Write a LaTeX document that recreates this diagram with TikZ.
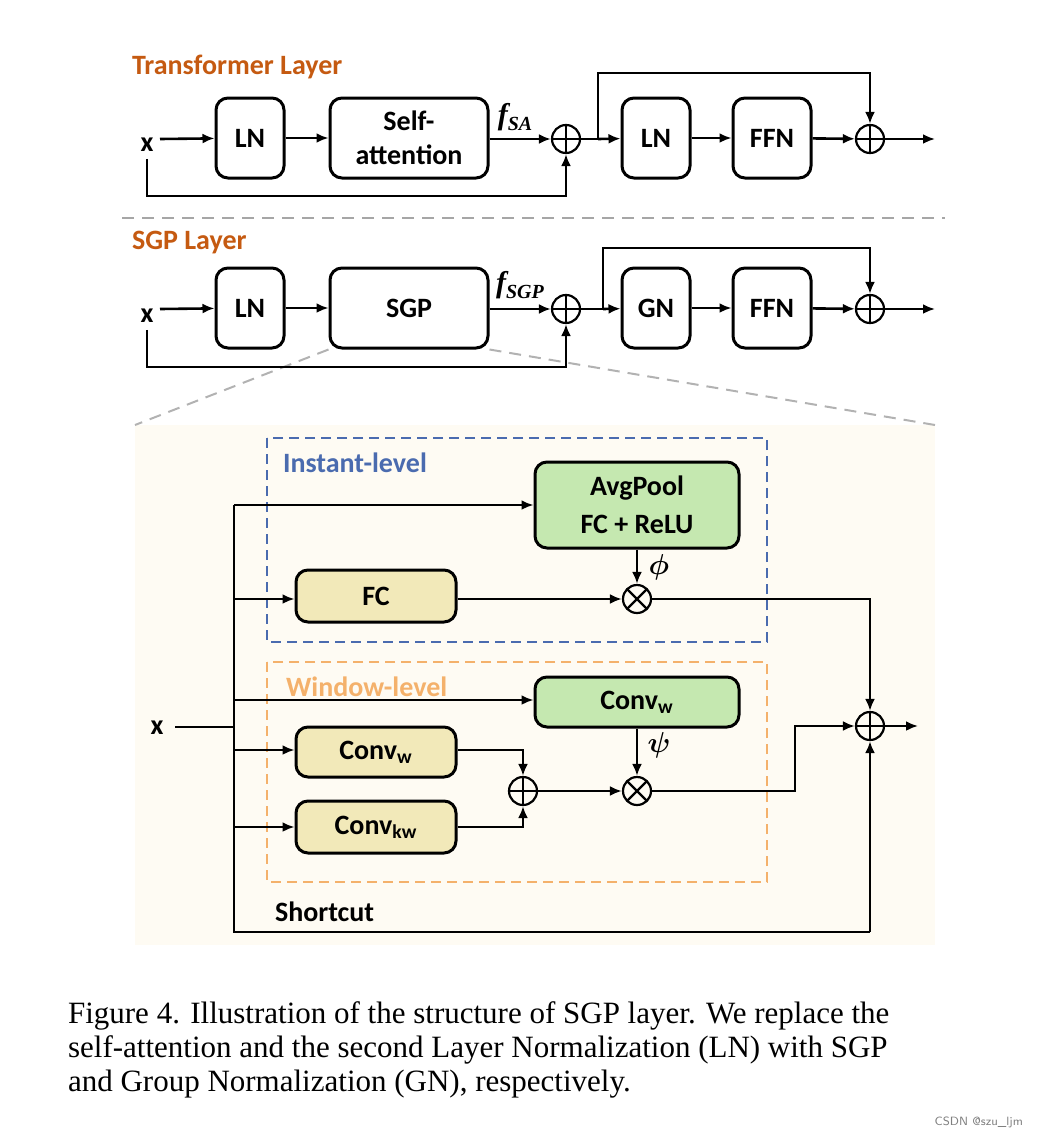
\documentclass[tikz,border=0pt]{standalone}
\usepackage{bm}
\usepackage{fontspec}
\setmainfont{Liberation Serif}
\newfontfamily\carl{Carlito}
\usetikzlibrary{arrows.meta}
\definecolor{tl}{HTML}{C55A11}
\definecolor{bl}{HTML}{4A6BAF}
\definecolor{orl}{HTML}{F4B16B}
\definecolor{grn}{HTML}{C5E8B0}
\definecolor{crm}{HTML}{F2E9B9}
\definecolor{bg}{HTML}{FEFBF3}
\begin{document}
\begin{tikzpicture}[x=0.5pt,y=-0.5pt,
 box/.style={draw,line width=1.5pt,rounded corners=6pt,font=\carl\bfseries\fontsize{14}{17}\selectfont,align=center,inner sep=0pt},
 ar/.style={line width=1.3pt,-{Latex[length=6pt,width=5pt]}},
 ln/.style={line width=1.3pt},
 op/.style={circle,draw,line width=1.1pt,minimum size=14pt,inner sep=0pt,path picture={\draw[line width=1.1pt] (path picture bounding box.north)--(path picture bounding box.south) (path picture bounding box.west)--(path picture bounding box.east);}},
 ot/.style={circle,draw,line width=1.1pt,minimum size=14pt,inner sep=0pt,path picture={\draw[line width=1.1pt] (path picture bounding box.north west)--(path picture bounding box.south east) (path picture bounding box.south west)--(path picture bounding box.north east);}},
 lab/.style={font=\carl\bfseries\fontsize{14}{17}\selectfont},
 gk/.style={font=\fontsize{14}{16}\selectfont}]
\useasboundingbox (0,0) rectangle (1042,1140);
% titles
\node[lab,text=tl,anchor=west] (t1) at (125,67) {Transformer Layer};
\node[lab,text=tl,anchor=west] (t2) at (125,243) {SGP Layer};
\draw[gray!70,line width=1.2pt,dash pattern=on 6pt off 4pt] (122,218)--(945,218);
% row 1
\node[lab] (x1) at (147,145) {x};
\node[box,minimum width=34pt,minimum height=40pt] (ln1) at (250,138) {LN};
\node[box,minimum width=79pt,minimum height=40pt] (sa) at (409,138) {Self-\\attention};
\node[op] (p1) at (566,139) {};
\node[box,minimum width=34pt,minimum height=40pt] (ln2) at (656,138) {LN};
\node[box,minimum width=39pt,minimum height=40pt] (ffn1) at (772,138) {FFN};
\node[op] (q1) at (870,139) {};
\coordinate (o1) at (935,139);
\node[font=\bfseries\itshape\fontsize{15}{16}\selectfont] (fsa) at (515,117) {f\raisebox{-3pt}{\fontsize{10}{12}\selectfont SA}};
\draw[ar] (160,139)--(ln1);
\draw[ar] (ln1)--(sa);
\draw[ar] (sa.east|-p1)--(p1);
\draw[ar] (x1.south)|-(566,196)--(p1.south);
\draw[ln] (p1)--(598,139);
\draw[ar] (598,139)--(ln2);
\draw[ar] (ln2)--(ffn1);
\draw[ar] (ffn1)--(q1);
\draw[ar] (598,139)|-(870,73)--(q1.north);
\draw[ar] (q1)--(o1);
% row 2
\node[lab] (x2) at (147,316) {x};
\node[box,minimum width=34pt,minimum height=40pt] (ln3) at (250,308) {LN};
\node[box,minimum width=79pt,minimum height=40pt] (sgp) at (409,308) {SGP};
\node[op] (p2) at (566,309) {};
\node[box,minimum width=34pt,minimum height=40pt] (gn) at (656,308) {GN};
\node[box,minimum width=39pt,minimum height=40pt] (ffn2) at (772,308) {FFN};
\node[op] (q2) at (870,309) {};
\coordinate (o2) at (935,309);
\node[font=\bfseries\itshape\fontsize{15}{16}\selectfont] (fsgp) at (520,285) {f\raisebox{-3pt}{\fontsize{10}{12}\selectfont SGP}};
% zoom lines & panel
\fill[bg] (135,425) rectangle (935,945);
\draw[gray!60,line width=1pt,dash pattern=on 6pt off 4pt] (sgp.south west)--(135,425) (sgp.south east)--(935,425);
\draw[ar] (160,309)--(ln3);
\draw[ar] (ln3)--(sgp);
\draw[ar] (sgp.east|-p2)--(p2);
\draw[ar] (x2.south)|-(566,367)--(p2.south);
\draw[ln] (p2)--(603,309);
\draw[ar] (603,309)--(gn);
\draw[ar] (gn)--(ffn2);
\draw[ar] (ffn2)--(q2);
\draw[ar] (603,309)|-(870,248)--(q2.north);
\draw[ar] (q2)--(o2);
% bottom panel
\draw[bl,line width=1.3pt,dash pattern=on 5pt off 3pt] (267,438) rectangle (767,642);
\draw[orl,line width=1.3pt,dash pattern=on 5pt off 3pt] (267,662) rectangle (767,882);
\node[lab,text=bl,anchor=west] (il) at (276,463) {Instant-level};
\node[lab,text=orl,anchor=west] (wl) at (279,687) {Window-level};
\node[box,fill=grn,minimum width=102pt,minimum height=43pt] (avg) at (637,505) {AvgPool\\[2pt]FC + ReLU};
\node[box,fill=crm,minimum width=80pt,minimum height=26pt] (fc) at (376,596) {FC};
\node[ot] (m1) at (637,599) {};
\node[box,fill=grn,minimum width=102pt,minimum height=25pt] (cw1) at (637,702) {Conv\textsubscript{w}};
\node[box,fill=crm,minimum width=80pt,minimum height=25pt] (cw2) at (376,752) {Conv\textsubscript{w}};
\node[box,fill=crm,minimum width=80pt,minimum height=26pt] (ckw) at (376,827) {Conv\textsubscript{kw}};
\node[op] (s1) at (523,791) {};
\node[ot] (m2) at (637,791) {};
\node[op] (big) at (870,726) {};
\coordinate (o3) at (918,726);
\node[lab] (xb) at (157,728) {x};
\node[lab,anchor=west] (sc) at (268,912) {Shortcut};
\node[gk] (phi) at (659,567) {$\bm{\phi}$};
\node[gk] (psi) at (659,745) {$\bm{\psi}$};
\draw[ln] (175,727)--(234,727);
\draw[ln] (234,505)--(234,932)--(870,932);
\draw[ar] (870,932)--(big.south);
\draw[ar] (234,505)--(avg.west|-234,505);
\draw[ar] (234,599)--(fc.west|-234,599);
\draw[ar] (234,700)--(cw1.west|-234,700);
\draw[ar] (234,750)--(cw2.west|-234,750);
\draw[ar] (234,827)--(ckw.west|-234,827);
\draw[ar] (avg.south)--(m1.north);
\draw[ar] (fc.east|-m1)--(m1.west);
\draw[ar] (m1.east)-|(big.north);
\draw[ar] (cw1.south)--(m2.north);
\draw[ar] (cw2.east|-523,750)-|(s1.north);
\draw[ar] (ckw.east|-523,827)-|(s1.south);
\draw[ar] (s1.east)--(m2.west);
\draw[ar] (m2.east)--(795,791)|-(big.west);
\draw[ar] (big.east)--(o3);
% caption
\node[anchor=north west,align=left,font=\fontsize{15.5}{17}\selectfont] (cap) at (61,995) {Figure 4. Illustration of the structure of SGP layer. We replace the\\ self-attention and the second Layer Normalization (LN) with SGP\\ and Group Normalization (GN), respectively.};
\node[anchor=south east,font=\sffamily\fontsize{6}{7}\selectfont,text=gray] (csdn) at (1030,1135) {CSDN @szu\_ljm};
\end{tikzpicture}
\end{document}
